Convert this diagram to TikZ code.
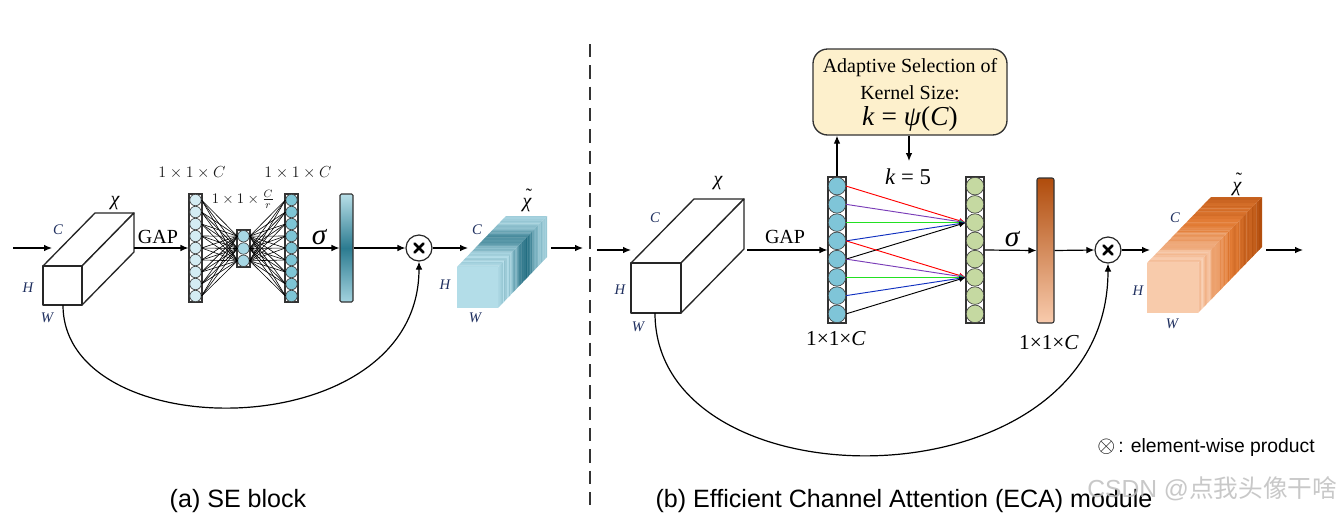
\documentclass[tikz,border=0pt]{standalone}
\usepackage{fontspec}
\setmainfont{Liberation Serif}
\newfontfamily\arialf{Liberation Sans}
\newfontfamily\cjkf{Noto Sans CJK SC}
\usetikzlibrary{arrows.meta,calc}
\definecolor{seL}{HTML}{D4ECF3}
\definecolor{seM}{HTML}{A7D7E4}
\definecolor{seR}{HTML}{7EC5D5}
\definecolor{barA1}{HTML}{B8DFE8}
\definecolor{barA2}{HTML}{2C7B90}
\definecolor{barA3}{HTML}{A3D3DF}
\definecolor{tealL}{HTML}{B5DEE9}
\definecolor{tealD}{HTML}{236E82}
\definecolor{tealF}{HTML}{B3DDE8}
\definecolor{ecaB}{HTML}{7FC5D8}
\definecolor{ecaG}{HTML}{C5D9A1}
\definecolor{ecaY}{HTML}{FDF0CC}
\definecolor{orL}{HTML}{F8CBAD}
\definecolor{orM}{HTML}{E27B34}
\definecolor{orD}{HTML}{B04C0C}
\definecolor{orF}{HTML}{F8CBAB}
\definecolor{navy}{HTML}{203060}
\definecolor{lnpurple}{HTML}{7A3DB8}
\definecolor{lngreen}{HTML}{22E022}
\definecolor{lnblue}{HTML}{1030C0}
\tikzset{
  arr/.style={draw=black, line width=0.9pt, -{Latex[length=6pt,width=5pt]}},
  edgebox/.style={draw=black!85, line width=1pt, line join=round, fill=white},
  dimlbl/.style={text=navy, inner sep=0pt, font=\fontsize{11}{11}\selectfont\itshape},
  chilbl/.style={inner sep=0pt, font=\fontsize{15}{15}\selectfont\itshape},
  tildelbl/.style={inner sep=0pt, font=\fontsize{14}{14}\selectfont},
  gaplbl/.style={inner sep=0pt, font=\fontsize{15}{15}\selectfont},
  siglbl/.style={inner sep=0pt, font=\fontsize{22}{22}\selectfont\itshape},
  selbl/.style={inner sep=0pt, text=black!90, font=\fontsize{11.5}{11.5}\selectfont},
  ecalbl/.style={inner sep=0pt, font=\fontsize{16}{16}\selectfont},
  mulnode/.style={circle, draw=black!85, line width=0.9pt, fill=white, minimum size=19.5pt, inner sep=0pt},
  mulx/.style={line width=2pt, line cap=round},
  colrect/.style={draw=black!80, line width=0.8pt, fill=white, inner sep=0pt},
  neuron/.style={circle, draw=black!75, line width=0.5pt, inner sep=0pt},
  conn/.style={line width=0.45pt, draw=black},
  ecaln/.style={line width=0.7pt, -{Latex[length=5pt,width=4pt]}},
}
\begin{document}
\begin{tikzpicture}[x=0.75pt,y=-0.75pt]
\useasboundingbox (0,0) rectangle (1340,512);
\fill[white] (0,0) rectangle (1340,512);

% ================= (a) SE block =================
\draw[edgebox] (43,266) -- (95,213) -- (134,213) -- (82,266) -- cycle;
\draw[edgebox] (82,266) -- (134,213) -- (134,252) -- (82,305) -- cycle;
\draw[edgebox] (43,266) rectangle (82,305);
\coordinate (boxAb) at (63,305);
\coordinate (boxAr) at (134,248);
\coordinate (inA) at (13,248);
\coordinate (inAe) at (52,248);
\node[chilbl] (chiA) at (115,203) {χ};
\node[dimlbl] (cA) at (58,230) {C};
\node[dimlbl] (hA) at (28,288) {H};
\node[dimlbl] (wA) at (47,318) {W};
\node[gaplbl] (gapA) at (158,237) {GAP};

\node[colrect, minimum width=9.75pt, minimum height=81pt] (aLc) at (195.5,248) {};
\node[colrect, minimum width=9.75pt, minimum height=27.75pt] (aMc) at (243.5,248.5) {};
\node[colrect, minimum width=9.75pt, minimum height=81pt] (aRc) at (291.5,248) {};
\foreach \i in {0,...,8}{
  \node[neuron, fill=seL, minimum size=8.6pt] (aL\i) at (195.5,{200+12*\i}) {};
  \node[neuron, fill=seR, minimum size=8.6pt] (aR\i) at (291.5,{200+12*\i}) {};
}
\foreach \j in {0,1,2}{
  \node[neuron, fill=seM, minimum size=8.6pt] (aM\j) at (243.5,{236.2+12.3*\j}) {};
}
\foreach \i in {0,...,8}{
  \foreach \j in {0,1,2}{
    \draw[conn] (aL\i.east) -- (aM\j.west);
    \draw[conn] (aM\j.east) -- (aR\i.west);
  }
}
\node[selbl] (lblA1) at (192,173) {$1\times1\times C$};
\node[selbl] (lblA2) at (298,173) {$1\times1\times C$};
\node[selbl, font=\fontsize{11}{11}\selectfont] (lblA3) at (243,199) {$1\times1\times\frac{C}{r}$};

\node[draw=black!80, line width=0.8pt, minimum width=9.75pt, minimum height=81pt, rounded corners=1pt,
      top color=barA1, bottom color=barA3, middle color=barA2, inner sep=0pt] (sbarA) at (346.5,248) {};
\node[siglbl] (sigA) at (319,237) {σ};

\node[mulnode] (mulA) at (419,248) {};
\draw[mulx] ($(mulA)+(-4.5,-4.5)$) -- ($(mulA)+(4.5,4.5)$);
\draw[mulx] ($(mulA)+(-4.5,4.5)$) -- ($(mulA)+(4.5,-4.5)$);

\pgfmathsetseed{12}
\foreach \i in {0,...,39}{
  \pgfmathsetmacro\ta{\i/40}
  \pgfmathsetmacro\tb{min(1,(\i+1.25)/40)}
  \pgfmathsetmacro\pr{int(max(0,min(100,10+80*exp(-(\ta-0.55)*(\ta-0.55)/0.05)+26*(rnd-0.5))))}
  \pgfmathsetmacro\pt{int(max(0,min(100,0.75*\pr)))}
  \fill[tealD!\pr!tealL] ({498+49*\ta},{267-51*\ta}) -- ({498+49*\ta},{308-51*\ta}) -- ({498+49*\tb},{308-51*\tb}) -- ({498+49*\tb},{267-51*\tb}) -- cycle;
  \fill[tealD!\pt!tealL] ({457+49*\ta},{267-51*\ta}) -- ({498+49*\ta},{267-51*\ta}) -- ({498+49*\tb},{267-51*\tb}) -- ({457+49*\tb},{267-51*\tb}) -- cycle;
}
\fill[tealF] (457,267) rectangle (498,308);
\coordinate (tbA) at (468,248);
\node[chilbl] (chiTA) at (527,205) {χ};
\node[tildelbl] (tilA) at (529,195) {˜};
\node[dimlbl] (cA2) at (477,230) {C};
\node[dimlbl] (hA2) at (445,285) {H};
\node[dimlbl] (wA2) at (475,318) {W};
\coordinate (outA1) at (551,248);
\coordinate (outA2) at (583,248);

\draw[arr] (inA) -- (inAe);
\draw[arr] (boxAr) -- (aLc.west);
\draw[arr] (aRc.east) -- (sbarA.west);
\draw[arr] (sbarA.east) -- (mulA.west);
\draw[arr] (mulA.east) -- (tbA);
\draw[arr] (outA1) -- (outA2);
\draw[arr] (boxAb) .. controls (63,448) and (419,448) .. (mulA.south);

\node[font=\arialf\fontsize{18.8}{18.8}\selectfont, anchor=base, inner sep=0pt] (capA) at (238,507) {(a) SE block};

\coordinate (sepT) at (590,44);
\coordinate (sepB) at (590,512);
\draw[line width=1.1pt, dash pattern=on 10pt off 6pt, black!80] (sepT) -- (sepB);

% ================= (b) ECA =================
\draw[edgebox] (631,263) -- (694,199) -- (744,199) -- (681,263) -- cycle;
\draw[edgebox] (681,263) -- (744,199) -- (744,249) -- (681,313) -- cycle;
\draw[edgebox] (631,263) rectangle (681,313);
\coordinate (boxBb) at (655,313);
\coordinate (boxBr) at (747,250);
\coordinate (inB) at (597,250);
\coordinate (inBe) at (631,250);
\node[chilbl] (chiB) at (718,183) {χ};
\node[dimlbl] (cB) at (655,218) {C};
\node[dimlbl] (hB) at (620,290) {H};
\node[dimlbl] (wB) at (638,327) {W};
\node[gaplbl] (gapB) at (785,237) {GAP};

\node[rounded corners=11pt, draw=black!80, line width=1pt, fill=ecaY, minimum width=145.5pt, minimum height=64.5pt, inner sep=0pt] (kbox) at (910,92) {};
\node[inner sep=0pt, font=\fontsize{15}{15}\selectfont] (kt1) at (910,68) {Adaptive Selection of};
\node[inner sep=0pt, font=\fontsize{15}{15}\selectfont] (kt2) at (910,93) {Kernel Size:};
\node[inner sep=0pt, font=\fontsize{20.5}{20.5}\selectfont] (kt3) at (910,119) {\textit{k} = \textit{ψ}(\textit{C})};
\node[inner sep=0pt, font=\fontsize{17}{17}\selectfont] (k5) at (908,177) {\textit{k} = 5};
\coordinate (kdown) at (909,161);

\node[colrect, minimum width=13.5pt, minimum height=109.5pt] (bLc) at (837,250) {};
\node[colrect, minimum width=13.5pt, minimum height=109.5pt] (bRc) at (975,250) {};
\foreach \i in {0,...,7}{
  \node[neuron, fill=ecaB, minimum size=13.2pt] (bL\i) at (837,{186.1+18.25*\i}) {};
  \node[neuron, fill=ecaG, minimum size=13.2pt] (bR\i) at (975,{186.1+18.25*\i}) {};
}
\foreach \s/\c in {0/red,1/lnpurple,2/lngreen,3/lnblue,4/black}{
  \draw[ecaln, draw=\c] (bL\s.east) -- (bR2.west);
}
\foreach \s/\c in {3/red,4/lnpurple,5/lngreen,6/lnblue,7/black}{
  \draw[ecaln, draw=\c] (bL\s.east) -- (bR5.west);
}
\node[ecalbl] (lblB1) at (836,339) {1×1×\textit{C}};

\node[draw=black!80, line width=0.8pt, minimum width=12.75pt, minimum height=108.75pt, rounded corners=1.5pt,
      top color=orD, bottom color=orL, inner sep=0pt] (sbarB) at (1045.5,250.5) {};
\node[siglbl] (sigB) at (1012,239) {σ};
\node[ecalbl] (lblB2) at (1049,343) {1×1×\textit{C}};

\node[mulnode] (mulB) at (1108,250) {};
\draw[mulx] ($(mulB)+(-4.5,-4.5)$) -- ($(mulB)+(4.5,4.5)$);
\draw[mulx] ($(mulB)+(-4.5,4.5)$) -- ($(mulB)+(4.5,-4.5)$);

\pgfmathsetseed{5}
\foreach \i in {0,...,44}{
  \pgfmathsetmacro\ta{\i/45}
  \pgfmathsetmacro\tb{min(1,(\i+1.25)/45)}
  \pgfmathsetmacro\tn{max(0,min(1,\ta+0.22*(rnd-0.5)))}
  \pgfmathsetmacro\qb{int(min(100,200*\tn))}
  \pgfmathsetmacro\qa{int(max(0,200*\tn-100))}
  \pgfmathsetmacro\tt{0.8*\tn}
  \pgfmathsetmacro\rb{int(min(100,200*\tt))}
  \pgfmathsetmacro\ra{int(max(0,200*\tt-100))}
  \fill[orD!\qa!orM!\qb!orL] ({1198+64*\ta},{263-66*\ta}) -- ({1198+64*\ta},{313-66*\ta}) -- ({1198+64*\tb},{313-66*\tb}) -- ({1198+64*\tb},{263-66*\tb}) -- cycle;
  \fill[orD!\ra!orM!\rb!orL] ({1147+64*\ta},{263-66*\ta}) -- ({1198+64*\ta},{263-66*\ta}) -- ({1198+64*\tb},{263-66*\tb}) -- ({1147+64*\tb},{263-66*\tb}) -- cycle;
}
\fill[orF] (1147,263) rectangle (1198,313);
\coordinate (tbB) at (1150,250);
\node[chilbl] (chiTB) at (1237,189) {χ};
\node[tildelbl] (tilB) at (1239,179) {˜};
\node[dimlbl] (cB2) at (1175,218) {C};
\node[dimlbl] (hB2) at (1138,291) {H};
\node[dimlbl] (wB2) at (1172,324) {W};
\coordinate (outB1) at (1266,250);
\coordinate (outB2) at (1303,250);

\draw[arr] (inB) -- (inBe);
\draw[arr] (boxBr) -- (bLc.west);
\draw[arr] (bLc.north) -- (bLc.north |- kbox.south);
\draw[arr] (kdown |- kbox.south) -- (kdown);
\draw[arr] (bRc.east) -- (sbarB.west);
\draw[arr] (sbarB.east) -- (mulB.west);
\draw[arr] (mulB.east) -- (tbB);
\draw[arr] (outB1) -- (outB2);
\draw[arr] (boxBb) .. controls (655,510) and (1108,510) .. (mulB.south);

\node[font=\arialf\fontsize{14.5}{14.5}\selectfont, anchor=west, inner sep=0pt] (legend) at (1097,447) {{\fontsize{17}{17}\selectfont$\otimes$}\,: element-wise product};
\node[font=\arialf\fontsize{18.8}{18.8}\selectfont, anchor=base, inner sep=0pt] (capB) at (904,507) {(b) Efficient Channel Attention (ECA) module};
\node[font=\arialf\fontsize{18.5}{18.5}\selectfont, text=black!25, anchor=west, inner sep=0pt, opacity=0.85] (wm) at (1087,489) {CSDN @{\cjkf 点我头像干啥}};
\end{tikzpicture}
\end{document}
